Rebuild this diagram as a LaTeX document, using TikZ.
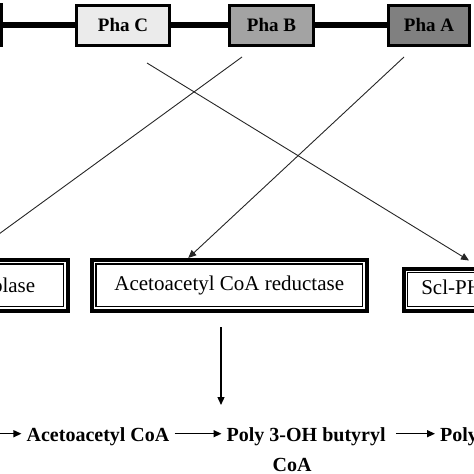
\documentclass[tikz,border=0pt]{standalone}
\usepackage{fontspec}
\setmainfont{Liberation Serif}
\usetikzlibrary{positioning,arrows.meta}
\definecolor{phaCfill}{gray}{0.92}
\definecolor{phaBfill}{gray}{0.64}
\definecolor{phaAfill}{gray}{0.50}
\tikzset{
  genebox/.style={draw, line width=3pt, minimum height=40pt, inner sep=0pt, font=\fontsize{19}{23}\selectfont\bfseries},
  geneline/.style={line width=6pt},
  enzbox/.style={draw, line width=1.5pt, fill=white, inner sep=0pt, outer sep=6pt,
    preaction={draw, line width=12pt}, preaction={draw=white, line width=4pt},
    font=\fontsize{21}{25}\selectfont},
  chem/.style={inner xsep=5pt, inner ysep=0pt, text height=16pt, text depth=0pt, font=\fontsize{20}{30}\selectfont\bfseries},
  link/.style={-{Triangle[length=8pt,width=7pt]}, line width=0.9pt, draw=black!85},
  flowarrow/.style={-{Triangle[length=8pt,width=7pt]}, line width=1.3pt}
}
\begin{document}
\begin{tikzpicture}[x=1pt, y=-1pt]
  \useasboundingbox (0,0) rectangle (474,474);
  \clip (0,0) rectangle (474,474);
  % gene cluster
  \node[fill=black, inner sep=0pt, minimum width=3pt, minimum height=44pt] (geneend) at (1.3,25) {};
  \node[genebox, fill=phaCfill, minimum width=93pt] (phaC) at (123,25) {Pha C};
  \node[genebox, fill=phaBfill, minimum width=84pt] (phaB) at (271.5,25) {Pha B};
  \node[genebox, fill=phaAfill, minimum width=81pt] (phaA) at (429,25) {Pha A};
  \draw[geneline] (geneend) -- (phaC) (phaC) -- (phaB) (phaB) -- (phaA);

  % enzymes
  \node[enzbox, minimum width=129pt, minimum height=42.5pt] (thiolase) at (-1,285.25) {Thiolase};
  \node[enzbox, minimum width=266.5pt, minimum height=42.5pt] (reductase) at (229.25,285.25) {Acetoacetyl CoA reductase};
  \node[enzbox, minimum width=181pt, minimum height=34pt] (synthase) at (498,289.5) {Scl-PHA synthase};

  \coordinate (phaCfoot) at (147,63);
  \coordinate (phaBfoot) at (242,57);
  \coordinate (phaAfoot) at (404,57);
  \draw[link] (phaCfoot) -- ([xshift=-29pt,yshift=6pt]synthase.north);
  \draw[link] (phaBfoot) -- ([xshift=-33pt]thiolase.north);
  \draw[link] (phaAfoot) -- ([xshift=-41pt]reductase.north);

  % pathway
  \node[chem, anchor=base] (acoa) at (98,441.7) {Acetoacetyl CoA};
  \node[chem, anchor=base west, align=left, text height=, text depth=] (phb) at (221.5,471.7) {Poly 3-OH butyryl\\\hspace*{46pt}CoA};
  \node[chem, anchor=base west] (poly) at (435,441.7) {Poly};

  \coordinate (stepstart) at (221,327);
  \coordinate (stepend) at (221,405);
  \coordinate (feedin) at (-5,433.7);
  \draw[flowarrow] (stepstart) -- (stepend);
  \draw[flowarrow] (feedin) -- (acoa.west);
  \draw[flowarrow] (acoa.east) -- (acoa.east -| phb.west);
  \draw[flowarrow] ([xshift=5pt]phb.east |- acoa.east) -- (poly.west);
\end{tikzpicture}
\end{document}
